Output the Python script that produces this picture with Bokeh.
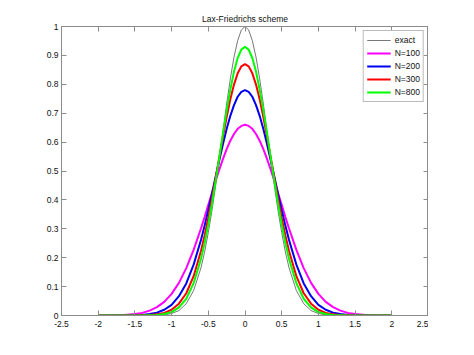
from bokeh.plotting import figure
from bokeh.models import FixedTicker, LinearAxis, Range1d, Legend, LegendItem
from bokeh.embed import file_html
from bokeh.resources import INLINE

title = "Lax-Friedrichs scheme"
x = [-2.0, -1.9, -1.8, -1.7, -1.6, -1.5, -1.4, -1.3, -1.2, -1.1, -1.0, -0.9, -0.8, -0.7,
     -0.6, -0.55, -0.5, -0.45, -0.4, -0.35, -0.3, -0.25, -0.2, -0.15, -0.1, -0.05, 0.0,
     0.05, 0.1, 0.15, 0.2, 0.25, 0.3, 0.35, 0.4, 0.45, 0.5, 0.55, 0.6,
     0.7, 0.8, 0.9, 1.0, 1.1, 1.2, 1.3, 1.4, 1.5, 1.6, 1.7, 1.8, 1.9, 2.0]
exact = [0, 0, 0, 0, 0, 0, 0, 0, 0.001, 0.002, 0.007, 0.017, 0.041, 0.086, 0.165, 0.220, 0.287, 0.363, 0.449, 0.542, 0.638, 0.732, 0.819, 0.894, 0.951, 0.988, 1.000,
         0.988, 0.951, 0.894, 0.819, 0.732, 0.638, 0.542, 0.449, 0.363, 0.287, 0.220, 0.165, 0.086, 0.041, 0.017, 0.007, 0.002, 0.001, 0, 0, 0, 0, 0, 0, 0, 0]
n100 = [0, 0, 0.001, 0.001, 0.003, 0.005, 0.009, 0.017, 0.029, 0.047, 0.075, 0.113, 0.164, 0.227, 0.301, 0.341, 0.383, 0.424, 0.466, 0.505, 0.542, 0.576, 0.605, 0.628, 0.646, 0.656, 0.660,
        0.656, 0.646, 0.628, 0.605, 0.576, 0.542, 0.505, 0.466, 0.424, 0.383, 0.341, 0.301, 0.227, 0.164, 0.113, 0.075, 0.047, 0.029, 0.017, 0.009, 0.005, 0.003, 0.001, 0.001, 0, 0]
n200 = [0, 0, 0, 0, 0, 0.001, 0.002, 0.005, 0.010, 0.020, 0.037, 0.067, 0.111, 0.176, 0.261, 0.311, 0.365, 0.421, 0.480, 0.537, 0.593, 0.645, 0.691, 0.728, 0.757, 0.774, 0.780,
        0.774, 0.757, 0.728, 0.691, 0.645, 0.593, 0.537, 0.480, 0.421, 0.365, 0.311, 0.261, 0.176, 0.111, 0.067, 0.037, 0.020, 0.010, 0.005, 0.002, 0.001, 0, 0, 0, 0, 0]
n300 = [0, 0, 0, 0, 0, 0, 0.001, 0.002, 0.004, 0.009, 0.020, 0.041, 0.077, 0.136, 0.223, 0.277, 0.338, 0.404, 0.475, 0.547, 0.619, 0.687, 0.748, 0.799, 0.838, 0.862, 0.870,
        0.862, 0.838, 0.799, 0.748, 0.687, 0.619, 0.547, 0.475, 0.404, 0.338, 0.277, 0.223, 0.136, 0.077, 0.041, 0.020, 0.009, 0.004, 0.002, 0.001, 0, 0, 0, 0, 0, 0]
n800 = [0, 0, 0, 0, 0, 0, 0, 0.001, 0.002, 0.005, 0.012, 0.028, 0.058, 0.112, 0.196, 0.251, 0.315, 0.387, 0.466, 0.547, 0.630, 0.710, 0.782, 0.844, 0.891, 0.920, 0.930,
        0.920, 0.891, 0.844, 0.782, 0.710, 0.630, 0.547, 0.466, 0.387, 0.315, 0.251, 0.196, 0.112, 0.058, 0.028, 0.012, 0.005, 0.002, 0.001, 0, 0, 0, 0, 0, 0, 0]

series_names = ["exact", "N=100", "N=200", "N=300", "N=800"]
series_vals = [exact, n100, n200, n300, n800]
series_colors = ["#555555", "#ff00ff", "#0000f0", "#ff0000", "#00ff00"]
series_widths = [0.8, 2, 2, 2, 2]

x_ticks = [-2.5, -2, -1.5, -1, -0.5, 0, 0.5, 1, 1.5, 2, 2.5]
x_tick_labels = ["-2.5", "-2", "-1.5", "-1", "-0.5", "0", "0.5", "1", "1.5", "2", "2.5"]
y_ticks = [0, 0.1, 0.2, 0.3, 0.4, 0.5, 0.6, 0.7, 0.8, 0.9, 1]
y_tick_labels = ["0", "0.1", "0.2", "0.3", "0.4", "0.5", "0.6", "0.7", "0.8", "0.9", "1"]

FONT = "Liberation Sans"
FS = "8.5px"
GRAY = "#8c8c8c"

p = figure(frame_width=367, frame_height=289,
           x_range=Range1d(-2.5, 2.5), y_range=Range1d(0, 1),
           output_backend="svg", toolbar_location=None,
           min_border_left=0, min_border_top=0, min_border_right=0, min_border_bottom=0,
           margin=(8, 0, 0, 43),
           title=title)
p.grid.visible = False
p.outline_line_color = GRAY
p.background_fill_color = "white"
p.border_fill_color = "white"
p.title.align = "center"
p.title.text_font = FONT
p.title.text_font_size = FS
p.title.text_font_style = "normal"
p.title.text_color = "#111111"
p.title.standoff = 6

def style_axis(ax, ticks, labels, show):
    ax.ticker = FixedTicker(ticks=ticks)
    ax.axis_line_color = GRAY
    ax.major_tick_line_color = GRAY
    ax.major_tick_in = 5
    ax.major_tick_out = 0
    ax.minor_tick_line_color = None
    if show:
        ax.major_label_overrides = {t: l for t, l in zip(ticks, labels)}
        ax.major_label_text_font = FONT
        ax.major_label_text_font_size = FS
        ax.major_label_text_color = "#111111"
    else:
        ax.major_label_text_font_size = "1px"
        ax.major_label_text_color = None
        ax.major_label_text_alpha = 0
        ax.major_label_standoff = 0

style_axis(p.xaxis[0], x_ticks, x_tick_labels, True)
style_axis(p.yaxis[0], y_ticks, y_tick_labels, True)
p.xaxis[0].major_label_standoff = 5
p.yaxis[0].major_label_standoff = 3
top = LinearAxis()
right = LinearAxis()
style_axis(top, x_ticks, x_tick_labels, False)
style_axis(right, y_ticks, y_tick_labels, False)
p.add_layout(top, "above")
p.add_layout(right, "right")

items = []
for name, vals, col, w in zip(series_names, series_vals, series_colors, series_widths):
    r = p.line(x, vals, line_color=col, line_width=w)
    items.append(LegendItem(label=name, renderers=[r]))

legend = Legend(items=items, location="top_right")
legend.border_line_color = "#777777"
legend.label_text_font = FONT
legend.label_text_font_size = FS
legend.label_text_color = "#111111"
legend.glyph_width = 24
legend.glyph_height = 12
legend.label_height = 12
legend.spacing = 1
legend.padding = 3
legend.margin = 4
legend.label_standoff = 4
p.add_layout(legend)

open("out.html", "w").write(file_html(p, INLINE))
